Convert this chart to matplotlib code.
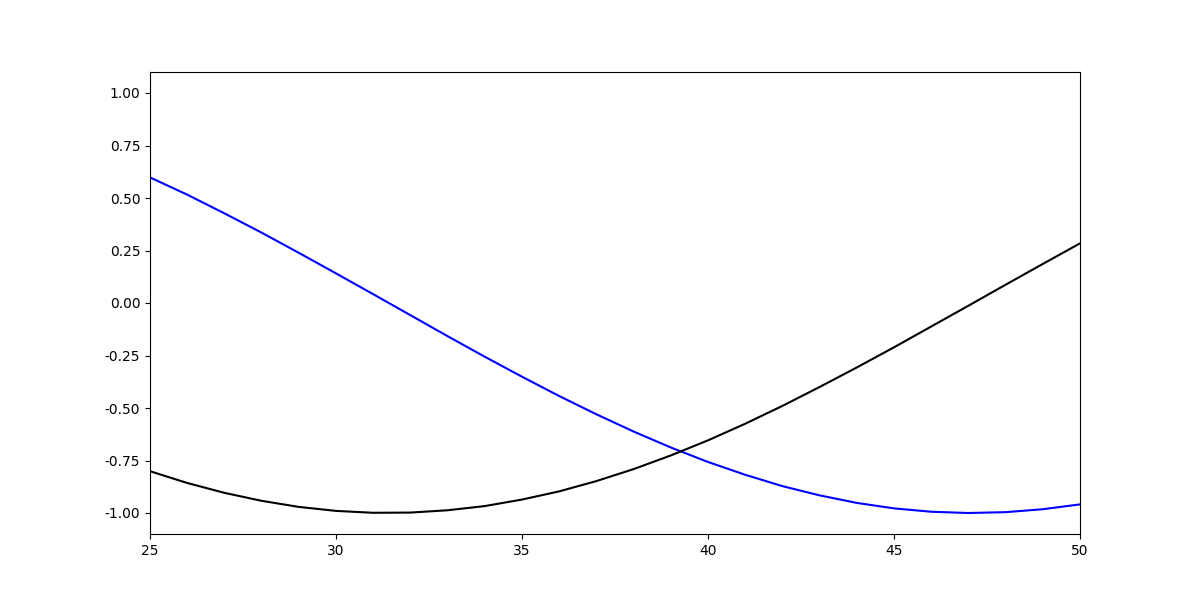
import matplotlib
matplotlib.use('Agg')
import matplotlib.pyplot as plt

# valores
x = list(range(25, 51))
azul = [0.598, 0.516, 0.427, 0.335, 0.239, 0.141, 0.042, -0.058, -0.158, -0.256,
        -0.351, -0.443, -0.530, -0.612, -0.688, -0.757, -0.818, -0.872, -0.916, -0.952,
        -0.978, -0.994, -1.000, -0.996, -0.982, -0.959]
negra = [-0.801, -0.857, -0.904, -0.942, -0.971, -0.990, -0.999, -0.998, -0.987, -0.967,
         -0.936, -0.897, -0.848, -0.791, -0.726, -0.654, -0.575, -0.490, -0.400, -0.307,
         -0.211, -0.112, -0.013, 0.087, 0.186, 0.284]

fig = plt.figure(figsize=(12, 6), dpi=100)
ax = plt.subplot(1, 1, 1)
plt.plot(x, azul, color='blue')
plt.plot(x, negra, color='black')
plt.xlim(25, 50)
plt.ylim(-1.1, 1.1)
plt.yticks([-1.0, -0.75, -0.5, -0.25, 0.0, 0.25, 0.5, 0.75, 1.0])
ax.yaxis.set_major_formatter(matplotlib.ticker.FormatStrFormatter('%.2f'))
plt.savefig('out.png')
